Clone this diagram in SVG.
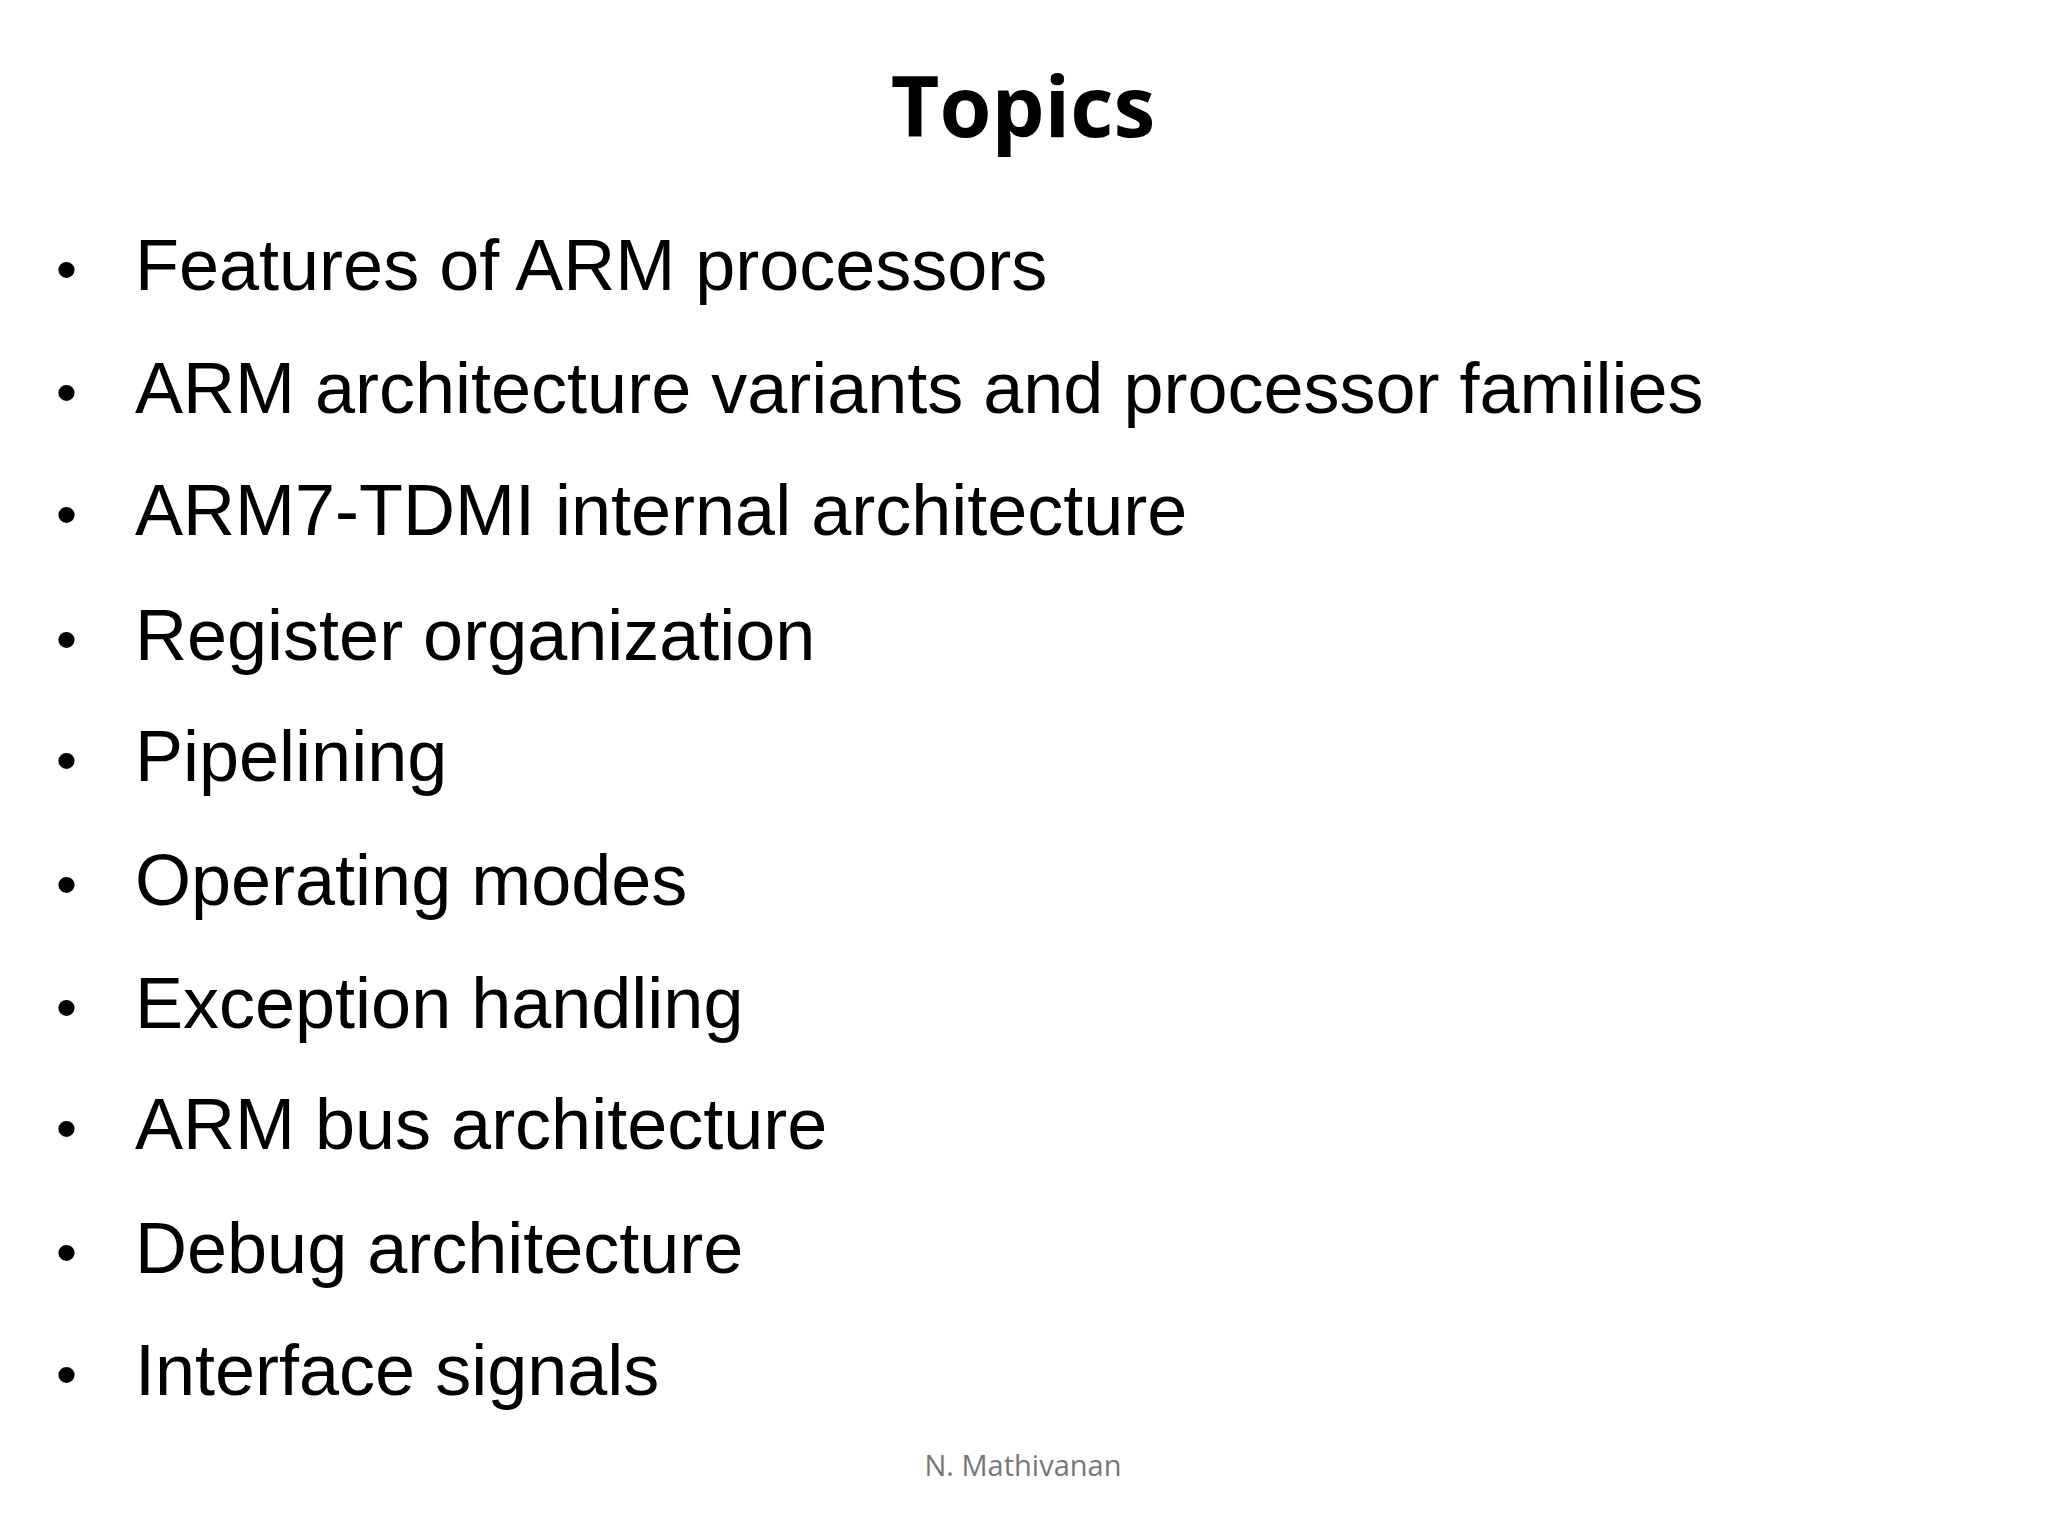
<svg xmlns="http://www.w3.org/2000/svg" width="2048" height="1536" viewBox="0 0 2048 1536">
<style>
.t{font-family:"Liberation Sans",Arial,sans-serif;font-size:72px;fill:#000}
.b{font-family:"Liberation Sans",Arial,sans-serif;font-size:60px;fill:#000}
</style>
<rect width="2048" height="1536" fill="#fff"/>
<text x="1023" y="137" text-anchor="middle" font-family="'Open Sans','Liberation Sans',sans-serif" font-weight="bold" font-size="84">Topics</text>
<g id="list">
<text class="b" x="56" y="290">•</text><text class="t" x="135" y="290">Features of ARM processors</text>
<text class="b" x="56" y="413">•</text><text class="t" x="135" y="413">ARM architecture variants and processor families</text>
<text class="b" x="56" y="535">•</text><text class="t" x="135" y="535">ARM7-TDMI internal architecture</text>
<text class="b" x="56" y="660">•</text><text class="t" x="135" y="660">Register organization</text>
<text class="b" x="56" y="781">•</text><text class="t" x="135" y="781">Pipelining</text>
<text class="b" x="56" y="905">•</text><text class="t" x="135" y="905">Operating modes</text>
<text class="b" x="56" y="1028">•</text><text class="t" x="135" y="1028">Exception handling</text>
<text class="b" x="56" y="1149">•</text><text class="t" x="135" y="1149">ARM bus architecture</text>
<text class="b" x="56" y="1273">•</text><text class="t" x="135" y="1273">Debug architecture</text>
<text class="b" x="56" y="1395">•</text><text class="t" x="135" y="1395">Interface signals</text>
</g>
<text x="1023" y="1476" text-anchor="middle" font-family="'Open Sans','Liberation Sans',sans-serif" font-size="29" fill="#777">N. Mathivanan</text>
</svg>
